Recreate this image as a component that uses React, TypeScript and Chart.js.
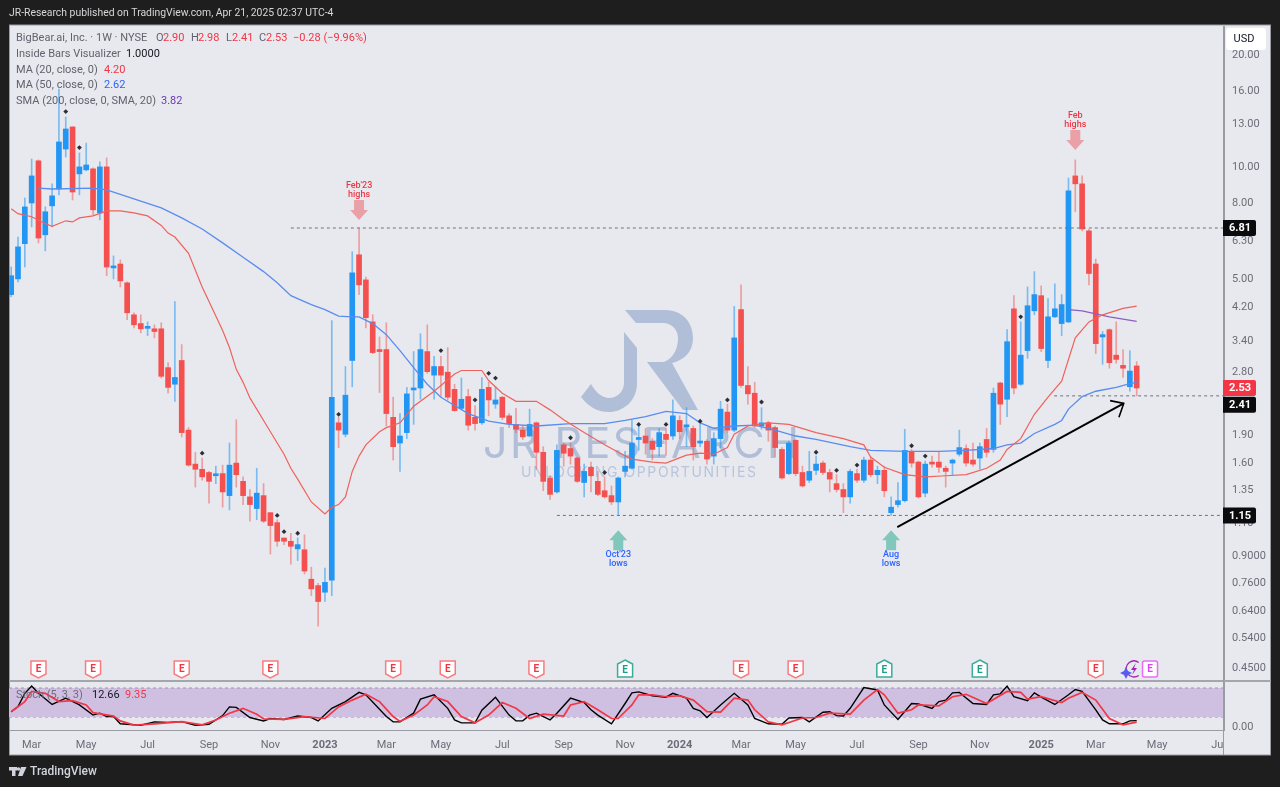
import { useEffect, useRef } from 'react'
import { Chart, registerables } from 'chart.js'

Chart.register(...registerables)

// weekly candles, index = week on the x scale
const opens = [
  4.51, 4.97, 6.18, 7.95, 10.32, 6.53, 7.81, 8.67, 11.1, 12.73,
  9.52, 9.76, 9.82, 7.48, 9.94, 5.32, 5.45, 4.85, 3.98, 3.77,
  3.66, 3.65, 3.65, 2.87, 2.59, 3.0, 1.95, 1.58, 1.53, 1.5,
  1.47, 1.49, 1.3, 1.59, 1.42, 1.29, 1.2, 1.3, 1.17, 1.1,
  1.0, 0.98, 0.935, 0.93, 0.775, 0.745, 0.715, 0.77, 2.04, 1.9,
  3.0, 5.77, 4.94, 3.81, 3.2, 3.21, 2.11, 1.8, 1.92, 2.5,
  2.53, 3.17, 2.74, 2.89, 2.79, 2.51, 2.23, 2.4, 2.11, 2.04,
  2.54, 2.29, 2.39, 2.13, 2.02, 1.95, 1.88, 2.04, 1.7, 1.45,
  1.33, 1.78, 1.74, 1.64, 1.41, 1.55, 1.42, 1.34, 1.3, 1.25,
  1.51, 1.54, 1.84, 1.88, 1.82, 1.76, 1.9, 1.88, 2.07, 1.99,
  1.97, 1.8, 1.82, 1.66, 1.85, 2.18, 1.95, 4.11, 2.57, 2.45,
  2.0, 2.04, 1.98, 1.73, 1.49, 1.83, 1.5, 1.43, 1.52, 1.59,
  1.5, 1.4, 1.35, 1.29, 1.49, 1.43, 1.62, 1.48, 1.52, 1.17,
  1.23, 1.26, 1.7, 1.6, 1.32, 1.6, 1.6, 1.54, 1.59, 1.68,
  1.74, 1.62, 1.64, 1.84, 1.73, 2.61, 2.36, 4.13, 2.59, 3.19,
  4.08, 4.48, 3.0, 3.93, 3.77, 3.81, 9.4, 8.95, 6.69, 5.45,
  3.47, 3.63, 3.1, 2.91, 2.55, 2.9,
]
const highs = [
  5.35, 6.44, 8.2, 10.44, 10.38, 7.76, 8.95, 16.1, 13.54, 12.73,
  10.84, 11.52, 9.88, 10.25, 10.51, 5.73, 5.59, 4.88, 4.03, 3.98,
  3.81, 3.74, 3.79, 2.96, 4.32, 3.31, 1.98, 1.7, 1.64, 1.51,
  1.56, 1.57, 1.8, 2.08, 1.46, 1.35, 1.54, 1.4, 1.17, 1.12,
  1.0, 1.03, 1.0, 1.02, 0.835, 0.755, 0.83, 3.84, 2.11, 2.89,
  5.88, 6.81, 5.03, 3.98, 3.47, 3.79, 2.39, 2.16, 2.54, 3.17,
  3.54, 3.74, 3.08, 3.08, 3.25, 2.59, 2.69, 2.51, 2.27, 2.7,
  2.62, 2.55, 2.4, 2.16, 2.23, 2.0, 2.22, 2.05, 1.76, 1.47,
  1.78, 1.8, 1.8, 1.65, 1.58, 1.6, 1.51, 1.46, 1.38, 1.46,
  1.71, 2.08, 2.02, 1.97, 1.85, 1.97, 1.97, 2.35, 2.13, 2.24,
  2.0, 2.02, 1.84, 1.92, 2.33, 2.29, 4.19, 4.79, 2.89, 2.62,
  2.24, 2.06, 2.0, 1.75, 1.82, 1.84, 1.56, 1.71, 1.66, 1.61,
  1.53, 1.48, 1.4, 1.53, 1.53, 1.65, 1.65, 1.56, 1.56, 1.29,
  1.41, 1.96, 1.73, 1.61, 1.61, 1.66, 1.71, 1.56, 1.63, 1.95,
  1.78, 1.8, 1.8, 1.97, 2.53, 2.62, 3.63, 4.48, 3.81, 4.73,
  5.2, 4.76, 4.4, 4.82, 4.51, 9.28, 10.38, 9.4, 6.75, 5.62,
  3.59, 3.65, 3.81, 3.21, 3.19, 2.98,
]
const lows = [
  4.45, 4.88, 5.35, 6.86, 6.21, 5.91, 6.86, 8.36, 10.57, 8.1,
  8.36, 9.7, 7.39, 7.16, 5.07, 4.97, 4.73, 3.86, 3.67, 3.56,
  3.5, 3.45, 2.69, 2.45, 2.33, 1.87, 1.56, 1.37, 1.43, 1.24,
  1.4, 1.21, 1.19, 1.37, 1.23, 1.11, 1.12, 1.1, 0.905, 0.95,
  0.96, 0.85, 0.87, 0.8, 0.7, 0.58, 0.675, 0.7, 1.75, 1.87,
  2.55, 4.51, 3.67, 3.13, 2.46, 2.0, 1.62, 1.51, 1.85, 2.02,
  2.36, 2.77, 2.36, 2.4, 2.35, 2.19, 2.21, 1.95, 1.95, 2.02,
  2.13, 2.23, 2.08, 1.98, 1.92, 1.84, 1.87, 1.53, 1.34, 1.27,
  1.32, 1.56, 1.58, 1.41, 1.29, 1.33, 1.3, 1.28, 1.23, 1.15,
  1.46, 1.53, 1.72, 1.68, 1.62, 1.66, 1.67, 1.84, 1.85, 1.76,
  1.62, 1.76, 1.58, 1.58, 1.75, 1.92, 1.93, 2.54, 2.29, 1.98,
  1.96, 1.82, 1.65, 1.44, 1.48, 1.47, 1.37, 1.41, 1.48, 1.48,
  1.33, 1.33, 1.17, 1.24, 1.41, 1.41, 1.46, 1.4, 1.29, 1.15,
  1.21, 1.25, 1.55, 1.28, 1.29, 1.55, 1.5, 1.37, 1.48, 1.66,
  1.56, 1.56, 1.53, 1.65, 1.7, 2.02, 2.12, 2.44, 2.57, 3.04,
  3.98, 3.17, 2.87, 3.91, 3.5, 3.79, 7.53, 6.69, 4.79, 3.13,
  2.93, 2.86, 2.95, 2.7, 2.48, 2.41,
]
const closes = [
  5.07, 6.06, 7.76, 9.4, 6.4, 7.53, 8.31, 11.6, 12.57, 8.51,
  9.94, 10.06, 7.62, 9.94, 5.35, 5.35, 4.91, 4.03, 3.74, 3.65,
  3.68, 3.59, 2.72, 2.54, 2.7, 1.92, 1.57, 1.53, 1.46, 1.42,
  1.48, 1.33, 1.57, 1.48, 1.3, 1.23, 1.32, 1.11, 1.08, 0.98,
  0.98, 0.95, 0.96, 0.815, 0.73, 0.675, 0.76, 2.39, 1.95, 2.42,
  5.16, 4.79, 3.91, 3.15, 3.17, 2.16, 1.76, 1.88, 2.44, 2.52,
  3.21, 2.8, 2.89, 2.74, 2.39, 2.2, 2.36, 2.01, 2.03, 2.51,
  2.35, 2.35, 2.11, 2.03, 1.96, 1.87, 2.02, 1.7, 1.42, 1.31,
  1.72, 1.69, 1.66, 1.42, 1.51, 1.47, 1.31, 1.29, 1.25, 1.45,
  1.56, 1.8, 1.86, 1.8, 1.73, 1.92, 1.84, 2.13, 1.93, 2.01,
  1.76, 1.82, 1.63, 1.85, 2.22, 1.95, 3.45, 2.57, 2.44, 2.0,
  2.04, 1.95, 1.75, 1.45, 1.8, 1.49, 1.38, 1.51, 1.58, 1.5,
  1.44, 1.35, 1.29, 1.51, 1.43, 1.62, 1.48, 1.52, 1.34, 1.21,
  1.26, 1.72, 1.59, 1.29, 1.58, 1.58, 1.55, 1.51, 1.62, 1.75,
  1.59, 1.58, 1.76, 1.7, 2.45, 2.29, 3.37, 2.53, 3.1, 4.21,
  4.51, 3.23, 3.93, 4.13, 4.24, 8.57, 8.95, 6.77, 5.14, 3.33,
  3.52, 2.96, 3.02, 2.86, 2.81, 2.53,
]

// moving averages, read at the weeks where the line bends
const ma20Weeks = [0, 1, 3, 5, 6, 8, 9, 10, 12, 14, 16, 18, 20, 22, 23, 24, 26, 28, 29, 31, 32, 33, 34, 35, 38, 40, 41, 42, 44, 46, 47, 48, 49, 50, 51, 52, 54, 55, 57, 59, 62, 65, 66, 69, 70, 72, 74, 77, 79, 81, 84, 87, 89, 91, 94, 96, 99, 101, 103, 105, 106, 108, 111, 114, 118, 122, 125, 126, 128, 131, 134, 137, 140, 143, 145, 146, 148, 150, 152, 154, 156, 158, 160, 163, 165]
const ma20Values = [7.67, 7.44, 7.3, 7.0, 6.88, 7.12, 7.07, 7.25, 7.34, 7.57, 7.57, 7.48, 7.34, 6.92, 6.6, 6.44, 5.82, 4.73, 4.32, 3.61, 3.25, 2.84, 2.62, 2.38, 1.93, 1.68, 1.54, 1.44, 1.25, 1.16, 1.21, 1.23, 1.29, 1.51, 1.66, 1.78, 1.93, 1.98, 2.04, 2.26, 2.48, 2.76, 2.82, 2.82, 2.65, 2.45, 2.33, 2.33, 2.21, 2.08, 1.92, 1.78, 1.7, 1.63, 1.6, 1.59, 1.67, 1.69, 1.68, 1.75, 1.9, 2.0, 2.04, 2.02, 1.92, 1.85, 1.78, 1.65, 1.55, 1.48, 1.46, 1.47, 1.48, 1.54, 1.62, 1.73, 1.85, 2.15, 2.39, 2.64, 3.45, 3.81, 3.98, 4.14, 4.2]
const ma50Weeks = [4, 6, 12, 14, 18, 22, 25, 28, 31, 34, 37, 39, 41, 44, 46, 48, 50, 51, 53, 55, 57, 59, 61, 63, 65, 67, 70, 73, 77, 82, 87, 90, 93, 96, 99, 101, 103, 106, 109, 112, 115, 118, 123, 126, 131, 136, 140, 144, 146, 148, 150, 153, 154, 155, 157, 159, 162, 164, 165]
const ma50Values = [8.72, 8.67, 8.72, 8.62, 8.15, 7.71, 7.25, 6.77, 6.21, 5.68, 5.2, 4.85, 4.48, 4.24, 4.11, 3.95, 3.93, 3.93, 3.77, 3.52, 3.19, 2.87, 2.59, 2.39, 2.27, 2.16, 2.06, 2.02, 2.0, 2.03, 2.03, 2.07, 2.12, 2.19, 2.16, 2.04, 1.97, 2.0, 2.01, 1.95, 1.88, 1.84, 1.76, 1.72, 1.71, 1.71, 1.72, 1.74, 1.78, 1.8, 1.91, 2.02, 2.07, 2.22, 2.4, 2.48, 2.54, 2.6, 2.62]
const sma200Weeks = [155, 157, 161, 165]
const sma200Values = [4.11, 4.08, 3.93, 3.82]

// inside bar markers
const insideWeeks = [8, 10, 28, 39, 40, 42, 48, 63, 68, 70, 71, 82, 87, 92, 96, 101, 105, 110, 118, 121, 124, 132, 134, 148]
const insidePrices = [14.0, 11.2, 1.69, 1.15, 1.04, 1.03, 2.15, 3.19, 2.35, 2.77, 2.69, 1.86, 1.5, 2.02, 2.02, 2.06, 2.35, 2.32, 1.7, 1.52, 1.57, 1.77, 1.66, 3.93]

// stochastic pane
const stochKWeeks = [0, 1, 2, 3, 4, 6, 8, 10, 12, 13, 14, 15, 16, 19, 21, 23, 25, 27, 29, 31, 32, 33, 35, 37, 38, 40, 42, 44, 45, 47, 49, 51, 52, 55, 56, 57, 59, 60, 62, 64, 65, 66, 68, 69, 71, 73, 74, 75, 76, 77, 79, 80, 82, 84, 85, 86, 88, 90, 91, 92, 94, 96, 97, 99, 100, 101, 102, 104, 106, 108, 109, 111, 113, 114, 116, 117, 119, 120, 121, 122, 123, 125, 127, 128, 130, 132, 133, 135, 136, 137, 138, 139, 141, 143, 144, 145, 146, 147, 149, 150, 151, 153, 155, 156, 157, 159, 160, 161, 163, 164, 165]
const stochKValues = [31, 41.5, 69, 84, 69, 46, 59, 45, 24, 28, 21, 21, 6, 3, 10, 9, 10.5, 3, 5, 23, 41, 40, 19, 12, 17, 15, 22, 19, 12, 38, 52, 71, 66, 21, 10, 10, 28, 57, 66, 38, 14, 8, 8, 34, 61, 24, 12, 12, 24, 28, 14, 28, 59, 50, 35, 24, 6, 48, 70, 72, 64, 61, 69, 59, 38, 33, 19, 45, 69, 45, 17, 6, 5, 18, 19, 10, 30, 31, 23, 22, 38, 81, 76, 45, 15, 48, 47, 38, 52, 55, 70, 71, 48, 46, 66, 68, 84, 62, 54, 70, 61, 46, 66, 77, 73, 35, 14, 6, 6, 12, 12.66]
const stochDWeeks = [0, 2, 3, 5, 7, 9, 11, 12, 15, 16, 18, 21, 25, 28, 30, 32, 34, 36, 37, 40, 43, 46, 48, 50, 52, 54, 56, 57, 59, 61, 62, 64, 66, 68, 70, 72, 74, 76, 78, 81, 82, 84, 86, 88, 89, 91, 92, 94, 96, 98, 100, 102, 104, 106, 108, 109, 111, 113, 116, 118, 120, 123, 125, 127, 128, 130, 132, 133, 136, 138, 140, 143, 146, 148, 149, 151, 154, 155, 157, 159, 161, 163, 165]
const stochDValues = [31, 52, 73, 69, 52, 54, 45, 29, 22, 12, 3.5, 6, 10.5, 4, 14, 28, 38, 25.6, 16, 15, 21, 17, 41, 55, 67, 52, 21, 11, 24, 45, 62, 52, 21, 8, 24, 50, 38, 17, 26, 22, 45, 52, 35, 17, 17, 45, 66, 66, 62, 64, 55, 31, 30, 59, 55, 35, 10, 4, 18, 19, 28, 26, 55, 77, 66, 28, 35, 45, 43, 62, 67, 48, 73, 71, 57, 62, 50, 59, 71, 55, 17, 4, 9.35]

// axis labels
const priceTicks = [20, 16, 13, 10, 8, 6.3, 5, 4.2, 3.4, 2.8, 1.9, 1.6, 1.35, 1.1, 0.9, 0.76, 0.64, 0.54, 0.45]
const stochTicks = [0]
const timeWeeks = [3, 11, 20, 29, 38, 46, 55, 63, 72, 81, 90, 98, 107, 115, 124, 133, 142, 151, 159, 168, 177]
const timeLabels = ['Mar', 'May', 'Jul', 'Sep', 'Nov', '2023', 'Mar', 'May', 'Jul', 'Sep', 'Nov', '2024', 'Mar', 'May', 'Jul', 'Sep', 'Nov', '2025', 'Mar', 'May', 'Jul']

// drawings on the chart
const levels = [
  { price: 6.81, from: 41 },
  { price: 2.41, from: 152.9 },
  { price: 1.15, from: 80 },
]
const trendWeeks = [129.9, 163.1]
const trendPrices = [1.07, 2.3]
const headWeeks = [161.1, 163.1, 162.4]
const headPrices = [2.34, 2.3, 2.11]
const callouts = [
  { week: 51, price: 7.16, lines: ["Feb'23", 'highs'], kind: 'high' },
  { week: 156, price: 11.04, lines: ['Feb', 'highs'], kind: 'high' },
  { week: 89, price: 1.05, lines: ["Oct'23", 'lows'], kind: 'low' },
  { week: 129, price: 1.05, lines: ['Aug', 'lows'], kind: 'low' },
]
const missedEarnings = [4, 12, 25, 38, 56, 64, 77, 107, 115, 159]
const beatEarnings = [90, 128, 142]
const axisTags = [
  { price: 6.81, text: '6.81', color: '#0b0b0d', shift: 0 },
  { price: 2.53, text: '2.53', color: '#f23645', shift: 0 },
  { price: 2.41, text: '2.41', color: '#0b0b0d', shift: 9 },
  { price: 1.15, text: '1.15', color: '#0b0b0d', shift: 0 },
]

const PANEL = '#e8e9ee'
const DARK = '#1e1e1e'
const FONT = 'Roboto, sans-serif'
const UP = '#2196f3'
const DOWN = '#f4504f'

const xMin = -0.32
const xMax = 177.8

const pairs = (xs: number[], ys: number[]) => xs.map((x, i) => ({ x, y: ys[i] }))

function candleSets() {
  const weeks = opens.map((_, i) => i)
  const isUp = (i: number) => closes[i] >= opens[i]
  const wick = (i: number) => ({ x: i, y: [lows[i], highs[i]] })
  const body = (i: number) => ({ x: i, y: [opens[i], closes[i]] })
  const bar = { type: 'bar', grouped: false, xAxisID: 'x', yAxisID: 'y' }
  return [
    { ...bar, data: weeks.filter(isUp).map(wick), backgroundColor: 'rgba(33,150,243,0.55)', barThickness: 1, order: 5 },
    { ...bar, data: weeks.filter(i => !isUp(i)).map(wick), backgroundColor: 'rgba(239,83,80,0.5)', barThickness: 1, order: 5 },
    { ...bar, data: weeks.filter(isUp).map(body), backgroundColor: UP, barThickness: 5, minBarLength: 2, order: 4 },
    { ...bar, data: weeks.filter(i => !isUp(i)).map(body), backgroundColor: DOWN, barThickness: 5, minBarLength: 2, order: 4 },
  ]
}

function priceLine(xs: number[], ys: number[], color: string, width = 1) {
  return {
    type: 'line', data: pairs(xs, ys), borderColor: color, borderWidth: width,
    pointRadius: 0, tension: 0, xAxisID: 'x', yAxisID: 'y', order: 2,
  }
}

function stochLine(xs: number[], ys: number[], color: string, order: number, width: number) {
  return {
    type: 'line', data: pairs(xs, ys), borderColor: color, borderWidth: width,
    pointRadius: 0, tension: 0, xAxisID: 'x', yAxisID: 'stoch', order,
  }
}

function stochBand(value: number, fill: any) {
  return {
    type: 'line', data: pairs([xMin, xMax], [value, value]), borderColor: '#9c93a8', borderWidth: 1,
    borderDash: [3, 3], pointRadius: 0, xAxisID: 'x', yAxisID: 'stoch', order: 8,
    fill, backgroundColor: '#cfc0e1',
  }
}

function roundBox(ctx: CanvasRenderingContext2D, x: number, y: number, w: number, h: number, r: any) {
  ctx.beginPath()
  ctx.roundRect(x, y, w, h, r)
}

function drawEarnings(ctx: CanvasRenderingContext2D, x: number, kind: string) {
  const stroke = kind === 'miss' ? '#f77c80' : '#3cab9c'
  const text = kind === 'miss' ? '#f23645' : '#1f9d8b'
  const top = kind === 'miss' ? 661 : 660
  ctx.beginPath()
  if (kind === 'miss') {
    ctx.moveTo(x - 7.5, top)
    ctx.lineTo(x + 7.5, top)
    ctx.lineTo(x + 7.5, top + 13)
    ctx.lineTo(x, top + 17)
    ctx.lineTo(x - 7.5, top + 13)
  } else {
    ctx.moveTo(x, top)
    ctx.lineTo(x + 7.5, top + 4)
    ctx.lineTo(x + 7.5, top + 17)
    ctx.lineTo(x - 7.5, top + 17)
    ctx.lineTo(x - 7.5, top + 4)
  }
  ctx.closePath()
  ctx.fillStyle = '#fff'
  ctx.fill()
  ctx.strokeStyle = stroke
  ctx.lineWidth = 1.5
  ctx.stroke()
  ctx.fillStyle = text
  ctx.font = `bold 10px ${FONT}`
  ctx.textAlign = 'center'
  ctx.textBaseline = 'middle'
  ctx.fillText('E', x, kind === 'miss' ? top + 8 : top + 10)
}

function drawCallout(ctx: CanvasRenderingContext2D, x: number, tip: number, lines: string[], kind: string) {
  const dir = kind === 'high' ? -1 : 1
  ctx.fillStyle = kind === 'high' ? '#e9a0a6' : '#82c7bb'
  ctx.beginPath()
  ctx.moveTo(x, tip)
  ctx.lineTo(x + 9, tip + dir * 10)
  ctx.lineTo(x + 5, tip + dir * 10)
  ctx.lineTo(x + 5, tip + dir * 20)
  ctx.lineTo(x - 5, tip + dir * 20)
  ctx.lineTo(x - 5, tip + dir * 10)
  ctx.lineTo(x - 9, tip + dir * 10)
  ctx.closePath()
  ctx.fill()
  ctx.fillStyle = kind === 'high' ? '#f23645' : '#2962ff'
  ctx.font = `500 9px ${FONT}`
  ctx.textAlign = 'center'
  ctx.textBaseline = 'middle'
  if (kind === 'high') {
    ctx.fillText(lines[0], x, tip - 34)
    ctx.fillText(lines[1], x, tip - 25)
  } else {
    ctx.fillText(lines[0], x, tip + 25)
    ctx.fillText(lines[1], x, tip + 34)
  }
}

function drawLogo(ctx: CanvasRenderingContext2D, big: string, small: string) {
  ctx.fillStyle = big
  // R
  ctx.beginPath()
  ctx.moveTo(625, 310)
  ctx.lineTo(665, 310)
  ctx.bezierCurveTo(684, 310, 693, 324, 693, 338)
  ctx.bezierCurveTo(693, 352, 684, 360, 672, 363)
  ctx.lineTo(698, 410)
  ctx.lineTo(683, 410)
  ctx.lineTo(647, 362)
  ctx.lineTo(664, 362)
  ctx.bezierCurveTo(674, 358, 678, 348, 678, 338)
  ctx.bezierCurveTo(678, 330, 672, 323, 663, 323)
  ctx.lineTo(636, 323)
  ctx.closePath()
  ctx.fill()
  // J
  ctx.beginPath()
  ctx.moveTo(624, 332)
  ctx.lineTo(637, 348)
  ctx.lineTo(637, 383)
  ctx.bezierCurveTo(637, 402, 622, 412, 609, 412)
  ctx.bezierCurveTo(597, 412, 588, 406, 581, 397)
  ctx.lineTo(591, 384)
  ctx.bezierCurveTo(596, 393, 603, 398, 609, 398)
  ctx.bezierCurveTo(618, 398, 624, 391, 624, 383)
  ctx.closePath()
  ctx.fill()
  ctx.textBaseline = 'alphabetic'
  ctx.textAlign = 'left'
  ctx.font = '400 43px Inter, sans-serif'
  ctx.letterSpacing = '2.4px'
  ctx.fillText('JR RESEARCH', 483, 458)
  ctx.font = '400 14px Inter, sans-serif'
  ctx.letterSpacing = '1.6px'
  ctx.fillStyle = small
  ctx.fillText('UNLOCKING OPPORTUNITIES', 521, 477)
  ctx.letterSpacing = '0px'
}

const panelPlugin = {
  id: 'panel',
  beforeDraw(chart: any) {
    const { ctx } = chart
    ctx.save()
    ctx.fillStyle = DARK
    ctx.fillRect(0, 0, chart.width, chart.height)
    ctx.fillStyle = PANEL
    ctx.fillRect(9, 25, 1262, 730)
    ctx.strokeStyle = '#9a9ca3'
    ctx.lineWidth = 1
    ctx.strokeRect(9.5, 25, 1261, 730)
    ctx.restore()
  },
}

// solid logo behind the candles, with a faint tint over them
const watermarkPlugin = {
  id: 'watermark',
  beforeDatasetsDraw(chart: any) {
    const { ctx } = chart
    ctx.save()
    drawLogo(ctx, '#b9c5dc', '#c0cadf')
    ctx.restore()
  },
  afterDatasetsDraw(chart: any) {
    const { ctx } = chart
    ctx.save()
    drawLogo(ctx, 'rgba(110,135,185,0.1)', 'rgba(110,135,185,0.08)')
    ctx.restore()
  },
}

const overlayPlugin = {
  id: 'overlay',
  afterDatasetsDraw(chart: any) {
    const { ctx, scales } = chart
    ctx.save()
    callouts.forEach(c => {
      drawCallout(ctx, scales.x.getPixelForValue(c.week), scales.y.getPixelForValue(c.price), c.lines, c.kind)
    })
    missedEarnings.forEach(w => drawEarnings(ctx, scales.x.getPixelForValue(w), 'miss'))
    beatEarnings.forEach(w => drawEarnings(ctx, scales.x.getPixelForValue(w), 'beat'))

    // news flags at the last bar
    ctx.strokeStyle = '#9c27b0'
    ctx.lineWidth = 1.4
    ctx.beginPath()
    ctx.arc(1134, 669, 8, 0.3 * Math.PI, 1.7 * Math.PI)
    ctx.stroke()
    ctx.fillStyle = '#9c27b0'
    ctx.beginPath()
    ctx.moveTo(1136, 663)
    ctx.lineTo(1131, 670)
    ctx.lineTo(1134, 670)
    ctx.lineTo(1132, 675)
    ctx.lineTo(1137, 668)
    ctx.lineTo(1134, 668)
    ctx.closePath()
    ctx.fill()
    ctx.fillStyle = '#5b5bf0'
    ctx.beginPath()
    ctx.moveTo(1126, 667)
    ctx.lineTo(1128, 671)
    ctx.lineTo(1132, 673)
    ctx.lineTo(1128, 675)
    ctx.lineTo(1126, 679)
    ctx.lineTo(1124, 675)
    ctx.lineTo(1120, 673)
    ctx.lineTo(1124, 671)
    ctx.closePath()
    ctx.fill()
    roundBox(ctx, 1142.5, 661, 15, 16, 2)
    ctx.fillStyle = '#fff'
    ctx.fill()
    ctx.strokeStyle = '#e86cf5'
    ctx.lineWidth = 1.5
    ctx.stroke()
    ctx.fillStyle = '#e040fb'
    ctx.font = `bold 10px ${FONT}`
    ctx.textAlign = 'center'
    ctx.textBaseline = 'middle'
    ctx.fillText('E', 1150, 669.5)

    // pane separator
    ctx.fillStyle = '#a4a6ac'
    ctx.fillRect(9, 680, 1262, 2)
    ctx.restore()
  },
  afterDraw(chart: any) {
    const { ctx, scales } = chart
    ctx.save()
    // the price column hides the last month label
    ctx.fillStyle = PANEL
    ctx.fillRect(1224, 731, 46, 23)
    ctx.fillStyle = '#9a9ca3'
    ctx.fillRect(1223, 26, 1, 729)

    // USD button
    roundBox(ctx, 1226, 28, 40, 22, 3)
    ctx.fillStyle = '#fff'
    ctx.fill()
    ctx.fillStyle = '#131722'
    ctx.font = `11px ${FONT}`
    ctx.textAlign = 'center'
    ctx.textBaseline = 'middle'
    ctx.fillText('USD', 1244, 39.5)

    // price tags
    axisTags.forEach(tag => {
      const y = scales.y.getPixelForValue(tag.price) + tag.shift
      roundBox(ctx, 1223, y - 8, 33, 16, [0, 2, 2, 0])
      ctx.fillStyle = tag.color
      ctx.fill()
      ctx.fillStyle = '#fff'
      ctx.font = `bold 11px ${FONT}`
      ctx.textAlign = 'center'
      ctx.fillText(tag.text, 1240, y + 0.5)
    })

    // title bar
    const put = (text: string, x: number, y: number, color: string, font = `11px ${FONT}`) => {
      ctx.font = font
      ctx.fillStyle = color
      ctx.textAlign = 'left'
      ctx.textBaseline = 'middle'
      ctx.fillText(text, x, y)
    }
    put('JR-Research published on TradingView.com, Apr 21, 2025 02:37 UTC-4', 9, 13.5, '#d6d7da', `10.4px ${FONT}`)

    // legend
    const GREY = '#60636e'
    const RED = '#f23645'
    put('BigBear.ai, Inc. · 1W · NYSE', 16, 38.5, GREY)
    put('O', 156, 38.5, GREY)
    put('2.90', 163, 38.5, RED)
    put('H', 191, 38.5, GREY)
    put('2.98', 198, 38.5, RED)
    put('L', 226, 38.5, GREY)
    put('2.41', 232, 38.5, RED)
    put('C', 259, 38.5, GREY)
    put('2.53', 266, 38.5, RED)
    put('−0.28 (−9.96%)', 293, 38.5, RED)
    put('Inside Bars Visualizer', 16, 54, GREY)
    put('1.0000', 126, 54, '#131722')
    put('MA (20, close, 0)', 16, 70, GREY)
    put('4.20', 104, 70, RED)
    put('MA (50, close, 0)', 16, 85.5, GREY)
    put('2.62', 104, 85.5, '#2962ff')
    put('SMA (200, close, 0, SMA, 20)', 16, 101, GREY)
    put('3.82', 161, 101, '#673ab7')
    put('Stoch (5, 3, 3)', 16, 695, '#6f6a78')
    put('12.66', 92, 695, '#131722')
    put('9.35', 125, 695, RED)

    // footer logo
    ctx.fillStyle = '#d1d4dc'
    ctx.fillRect(9, 767, 8, 3.5)
    ctx.fillRect(12, 767, 3.5, 9)
    ctx.beginPath()
    ctx.arc(18.5, 769, 1.8, 0, Math.PI * 2)
    ctx.fill()
    ctx.beginPath()
    ctx.moveTo(21, 767)
    ctx.lineTo(26.5, 767)
    ctx.lineTo(22.5, 776)
    ctx.lineTo(18, 776)
    ctx.closePath()
    ctx.fill()
    put('TradingView', 30, 771.5, '#d1d4dc', `500 12px ${FONT}`)
    ctx.restore()
  },
}

export default function App() {
  const canvasRef = useRef<HTMLCanvasElement>(null)

  useEffect(() => {
    document.body.style.margin = '0'
    const chart = new Chart(canvasRef.current as HTMLCanvasElement, {
      type: 'bar',
      data: {
        datasets: [
          ...candleSets(),
          priceLine(ma20Weeks, ma20Values, '#f0625c', 1.2),
          priceLine(ma50Weeks, ma50Values, '#5a8cf0', 1.3),
          priceLine(sma200Weeks, sma200Values, '#8a5fc0', 1.2),
          ...levels.map(l => ({
            type: 'line', data: pairs([l.from, xMax], [l.price, l.price]), borderColor: '#70737d',
            borderWidth: 1, borderDash: [3, 3], pointRadius: 0, xAxisID: 'x', yAxisID: 'y', order: 3,
          })),
          { ...priceLine(trendWeeks, trendPrices, '#000000', 2), order: 1 },
          { ...priceLine(headWeeks, headPrices, '#000000', 1.6), order: 1 },
          {
            type: 'scatter', data: pairs(insideWeeks, insidePrices), pointStyle: 'rectRot', pointRadius: 2.4,
            backgroundColor: '#2a2e39', borderWidth: 0, xAxisID: 'x', yAxisID: 'y', order: 1,
          },
          stochBand(80, { value: 20 }),
          stochBand(20, false),
          stochLine(stochKWeeks, stochKValues, '#000000', 2, 1.4),
          stochLine(stochDWeeks, stochDValues, '#f23645', 1.5, 1.7),
        ],
      },
      options: {
        responsive: false,
        animation: false,
        events: [],
        layout: { padding: { left: 9, right: 9, top: 26, bottom: 32 } },
        plugins: { legend: { display: false }, tooltip: { enabled: false }, title: { display: false } },
        scales: {
          x: {
            type: 'linear', position: 'bottom', min: xMin, max: xMax, offset: false,
            grid: { display: false },
            border: { color: '#9a9ca3' },
            afterBuildTicks: (s: any) => { s.ticks = timeWeeks.map(value => ({ value })) },
            afterFit: (s: any) => { s.height = 25 },
            ticks: {
              autoSkip: false, maxRotation: 0, padding: 1, color: '#6a6d78',
              callback: (v: any) => timeLabels[timeWeeks.indexOf(v)],
              font: (c: any) => ({
                family: FONT, size: 11,
                weight: /^\d/.test(timeLabels[timeWeeks.indexOf(c.tick?.value)] || '') ? 'bold' : 'normal',
              }),
            },
          },
          y: {
            type: 'logarithmic', position: 'right', stack: 'right', stackWeight: 655, weight: 1,
            min: 0.4128, max: 23.77, beginAtZero: false,
            grid: { display: false, drawTicks: false },
            border: { color: '#9a9ca3' },
            afterBuildTicks: (s: any) => { s.ticks = priceTicks.map(value => ({ value })) },
            afterFit: (s: any) => { s.width = 47 },
            ticks: {
              autoSkip: false, padding: 8, labelOffset: 1, color: '#6a6d78', font: { family: FONT, size: 11 },
              callback: (v: any) => (v >= 1 ? v.toFixed(2) : v.toFixed(4)),
            },
          },
          stoch: {
            type: 'linear', position: 'right', stack: 'right', stackWeight: 49, weight: 2,
            min: -6.8, max: 94.5,
            grid: { display: false, drawTicks: false },
            border: { color: '#9a9ca3' },
            afterBuildTicks: (s: any) => { s.ticks = stochTicks.map(value => ({ value })) },
            afterFit: (s: any) => { s.width = 47 },
            ticks: {
              autoSkip: false, padding: 8, labelOffset: 1, color: '#6a6d78', font: { family: FONT, size: 11 },
              callback: (v: any) => v.toFixed(2),
            },
          },
        },
      },
      plugins: [panelPlugin, watermarkPlugin, overlayPlugin],
    } as any)

    return () => chart.destroy()
  }, [])

  return <canvas ref={canvasRef} width={1280} height={787} style={{ display: 'block' }} />
}
